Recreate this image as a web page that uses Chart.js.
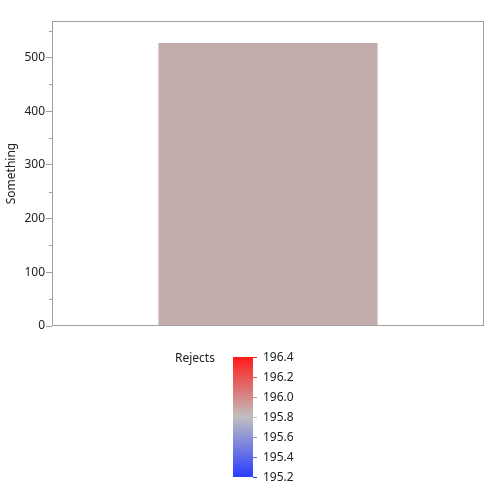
<!DOCTYPE html>
<html>
<head>
<meta charset="utf-8">
<script src="https://cdn.jsdelivr.net/npm/chart.js@4"></script>
<style>
  html, body { margin: 0; padding: 0; background: #fff; }
  #wrap { width: 487px; height: 492px; }
</style>
</head>
<body>
<div id="wrap"><canvas id="grafico"></canvas></div>
<script>
// datos
const categorias = ['Rejects'];
const valores = [527];
const yTicks = [0, 100, 200, 300, 400, 500];
const yMinor = [50, 150, 250, 350, 450, 550];
const escalaTicks = [195.2, 195.4, 195.6, 195.8, 196.0, 196.2, 196.4];
const escalaTitulo = 'Rejects';

const fuente = "'Noto Sans', 'Open Sans', sans-serif";
const gris = '#a0a0a0';
const texto = '#222222';

// colorbar color for a value in the legend range
function colorEscala(v) {
  const lo = escalaTicks[0], hi = escalaTicks[escalaTicks.length - 1];
  const t = (v - lo) / (hi - lo);
  const azul = [42, 60, 255], medio = [192, 192, 192], rojo = [255, 26, 26];
  let a, b, f;
  if (t < 0.5) { a = azul; b = medio; f = t / 0.5; } else { a = medio; b = rojo; f = (t - 0.5) / 0.5; }
  const c = a.map((x, i) => Math.round(x + (b[i] - x) * f));
  return 'rgb(' + c.join(',') + ')';
}

const extras = {
  id: 'extras',
  afterDraw(chart) {
    const ctx = chart.ctx;
    const a = chart.chartArea;
    const y = chart.scales.y;
    ctx.save();
    // marco
    ctx.strokeStyle = gris;
    ctx.lineWidth = 1;
    ctx.strokeRect(Math.round(a.left) + 0.5, Math.round(a.top) + 0.5, Math.round(a.right - a.left) - 1, Math.round(a.bottom - a.top) - 1);
    // minor ticks
    ctx.beginPath();
    yMinor.forEach(v => {
      const py = Math.round(y.getPixelForValue(v)) + 0.5;
      ctx.moveTo(a.left - 3, py);
      ctx.lineTo(a.left, py);
    });
    ctx.stroke();

    // colorbar
    const bx = 233, bw = 20, btop = 357, bh = 120;
    const lo = escalaTicks[0], hi = escalaTicks[escalaTicks.length - 1];
    const grad = ctx.createLinearGradient(0, btop + bh, 0, btop);
    for (let i = 0; i <= 10; i++) {
      grad.addColorStop(i / 10, colorEscala(lo + (hi - lo) * i / 10));
    }
    ctx.fillStyle = grad;
    ctx.fillRect(bx, btop, bw, bh);

    ctx.font = '12px ' + fuente;
    ctx.textBaseline = 'middle';
    ctx.textAlign = 'left';
    escalaTicks.forEach(v => {
      const py = Math.round(btop + bh - (v - lo) / (hi - lo) * bh) + 0.5;
      ctx.strokeStyle = colorEscala(v);
      ctx.beginPath();
      ctx.moveTo(bx + bw, py);
      ctx.lineTo(bx + bw + 4, py);
      ctx.stroke();
      ctx.fillStyle = texto;
      ctx.fillText(v.toFixed(1), bx + bw + 10, py);
    });
    ctx.font = '12px ' + fuente;
    ctx.fillText(escalaTitulo, 175, 359);
    ctx.restore();
  }
};

new Chart(document.getElementById('grafico').getContext('2d'), {
  type: 'bar',
  data: {
    labels: categorias,
    datasets: [{
      label: 'Something',
      data: valores,
      backgroundColor: '#c4acac',
      borderColor: '#dccccc',
      borderWidth: { left: 1, right: 1, top: 0, bottom: 0 },
      barPercentage: 0.51,
      categoryPercentage: 1
    }]
  },
  options: {
    responsive: true,
    maintainAspectRatio: false,
    animation: false,
    layout: { padding: { left: 0, top: 21, right: 3, bottom: 166 } },
    plugins: { legend: { display: false }, tooltip: { enabled: false } },
    scales: {
      x: { display: false },
      y: {
        min: 0,
        max: 568,
        afterBuildTicks: s => { s.ticks = yTicks.map(v => ({ value: v })); },
        afterFit: s => { s.width = 52; },
        border: { display: false },
        grid: { drawOnChartArea: false, tickLength: 6, color: gris },
        ticks: { color: texto, padding: 1, font: { family: fuente, size: 12 } },
        title: { display: true, text: 'Something', color: texto, font: { family: fuente, size: 12 } }
      }
    }
  },
  plugins: [extras]
});
</script>
</body>
</html>
